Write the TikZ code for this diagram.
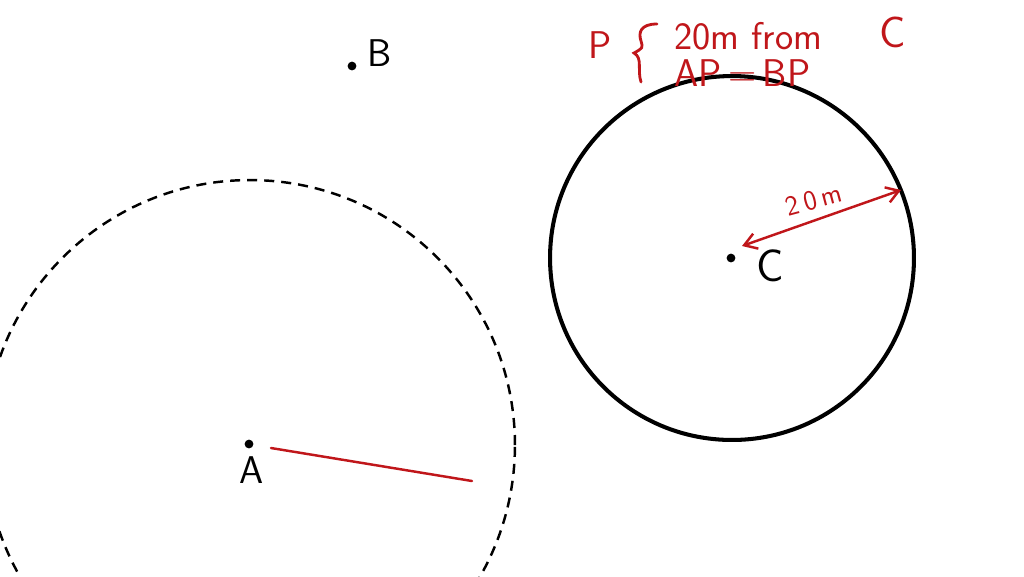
\documentclass[tikz,border=0pt]{standalone}
\usetikzlibrary{arrows.meta}
\definecolor{penred}{RGB}{192,22,26}
\tikzset{
  dot/.style={circle,fill=black,inner sep=0pt,minimum size=5pt},
  handtext/.style={font=\sffamily\fontsize{22}{24}\selectfont,inner sep=0pt},
  redtext/.style={handtext,text=penred},
  redpen/.style={draw=penred,line width=1.4pt,line cap=round},
}
\begin{document}
\begin{tikzpicture}[x=0.02cm,y=-0.02cm]
		\useasboundingbox[fill=white] (0,0) rectangle (1024,576);
		% dashed circle round A, cut by the page
		\begin{scope}
			\clip (0,0) rectangle (1024,576);
			\draw[line width=1.4pt,dash pattern=on 5.7pt off 4pt] (250,445) circle[radius=5.3cm];
		\end{scope}
		% solid circle round C
		\draw[line width=2.3pt] (732,258) circle[radius=3.64cm];
		%
		\node (Bdot) [dot] at (352,66) {};
		\node (Blabel) [handtext] at (380,53) {B};
		\node (Cdot) [dot] at (731,258) {};
		\node (Clabel) [handtext,font=\sffamily\fontsize{26}{28}\selectfont] at (770,266) {C};
		\node (Adot) [dot] at (249,444) {};
		\node (Alabel) [handtext] at (252,470) {A};
		%
		\node (Pname) [redtext] at (600,45) {P};
		\draw[redpen,line width=1.6pt] (657,24) .. controls (641,24) and (638,32) .. (641,41)
			.. controls (643,48) .. (634,53) .. controls (643,58) and (637,70) .. (641,82);
		\node (cond1) [redtext,anchor=west] at (674,36) {20m from};
		\node (cond1C) [redtext,font=\sffamily\fontsize{25}{28}\selectfont] at (893,32) {C};
		\node (cond2) [redtext,anchor=west] at (674,73) {AP\,=\,BP};
		%
		\coordinate (arrowC) at (742,246);
		\coordinate (arrowRim) at (901,190);
		\draw[redpen,{Straight Barb[length=7pt,width=9pt]}-{Straight Barb[length=7pt,width=9pt]}] (arrowC) -- (arrowRim);
		\node (radlabel) [redtext,font=\sffamily\fontsize{16}{18}\selectfont,rotate=15] at (814,200) {2\,0\,m};
		%
		\coordinate (lineA) at (271,448);
		\coordinate (lineEnd) at (472,481);
		\draw[redpen] (lineA) -- (lineEnd);
\end{tikzpicture}
\end{document}
